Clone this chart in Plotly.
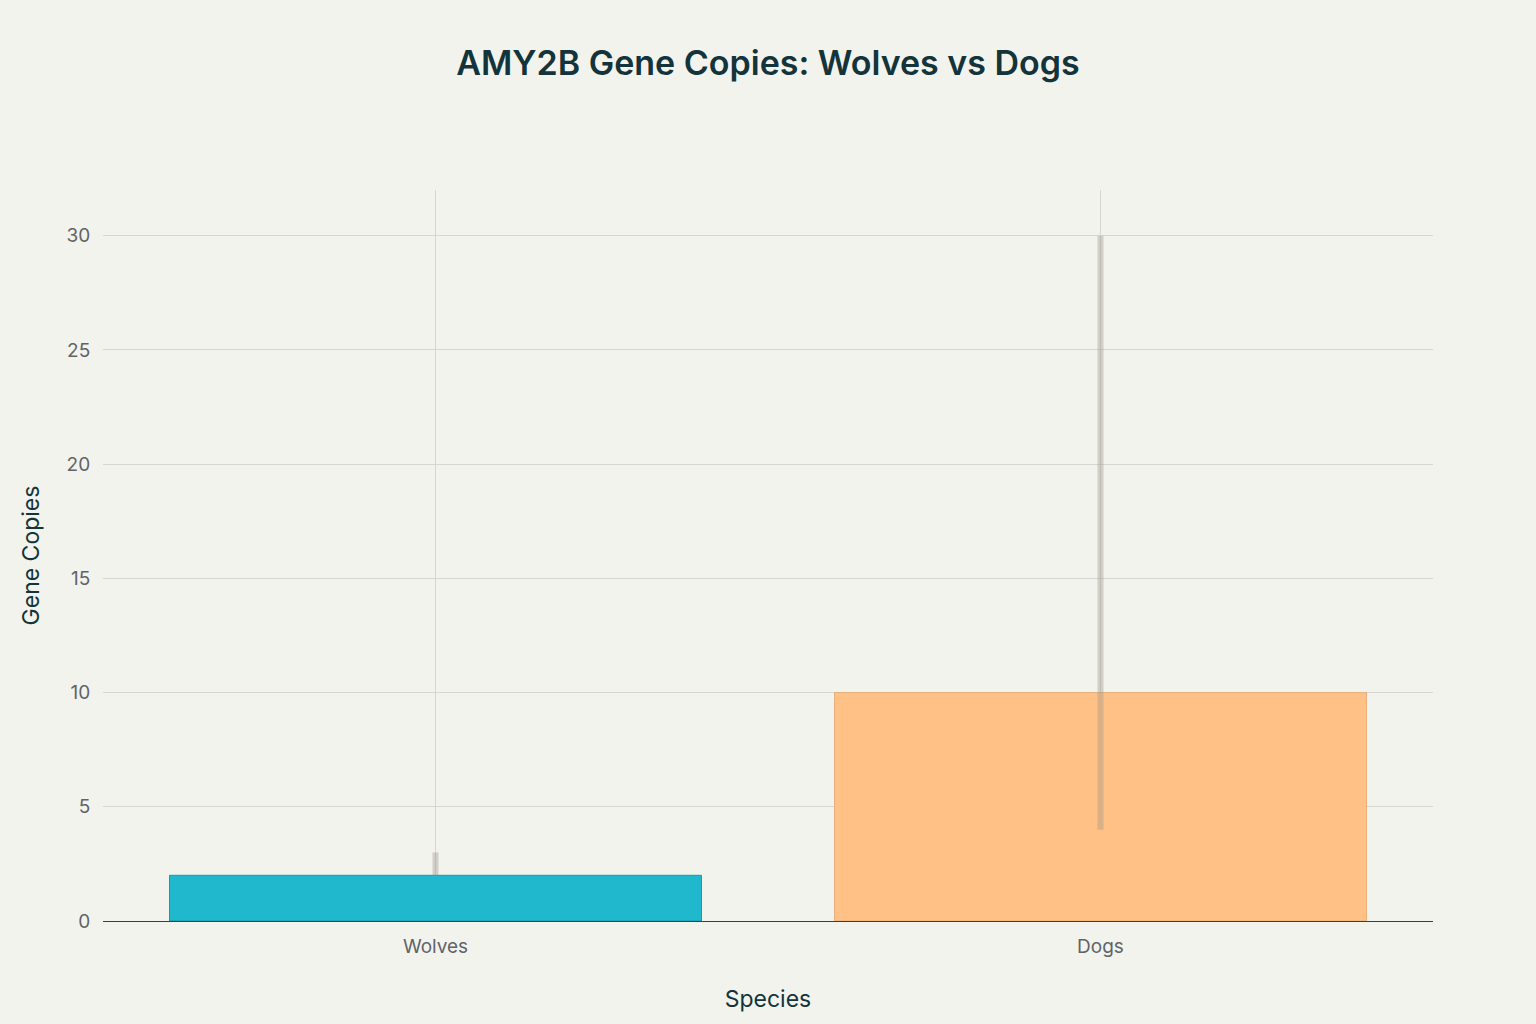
import plotly.graph_objects as go

species = ["Wolves", "Dogs"]
copies = [2, 10]
err_plus = [1, 20]
err_minus = [0, 6]
colors = ["#1FB8CD", "#FFC185"]
line_colors = ["#1a9aac", "#e8b07c"]

fig = go.Figure()
fig.add_trace(go.Bar(
    x=species,
    y=copies,
    marker=dict(color=colors, line=dict(color=line_colors, width=1)),
    error_y=dict(type="data", symmetric=False, array=err_plus, arrayminus=err_minus,
                 color="rgba(160,150,140,0.4)", thickness=6, width=0),
    showlegend=False,
))

fig.update_layout(
    width=1536, height=1024,
    paper_bgcolor="#F3F3EE", plot_bgcolor="#F3F3EE",
    margin=dict(l=103, r=103, t=190, b=103),
    bargap=0.2,
    title=dict(text="AMY2B Gene Copies: Wolves vs Dogs", x=0.5, xanchor="center", y=0.938, yanchor="middle",
               font=dict(family="Inter, Liberation Sans, sans-serif", size=34, weight=600, color="#13343B")),
    font=dict(family="Inter, Liberation Sans, sans-serif", color="#13343B"),
    xaxis=dict(title=dict(text="Species", font=dict(size=23, color="#13343B"), standoff=33),
               tickfont=dict(size=19, color="#5f6467"),
               showgrid=True, gridcolor="#D6D6D2", gridwidth=1,
               showline=True, linecolor="#3a3f42", linewidth=1.2,
               ticks="outside", ticklen=8, tickcolor="rgba(0,0,0,0)", range=[-0.5, 1.5]),
    yaxis=dict(title=dict(text="Gene Copies", font=dict(size=23, color="#13343B"), standoff=20),
               tickfont=dict(size=19, color="#5f6467"),
               showgrid=True, gridcolor="#D6D6D2", gridwidth=1,
               zeroline=False, range=[0, 32], tickvals=[0, 5, 10, 15, 20, 25, 30],
               ticks="outside", ticklen=8, tickcolor="rgba(0,0,0,0)"),
)

fig.write_html("out.html")
